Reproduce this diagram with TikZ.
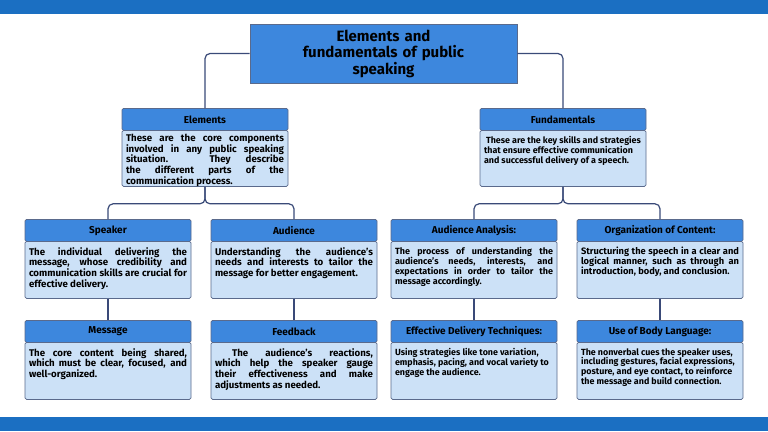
\documentclass[tikz,border=0pt]{standalone}
\usepackage{fontspec}
\setmainfont{Fira Sans}
\definecolor{bar}{HTML}{1B6FC2}
\definecolor{hdr}{HTML}{3D87DD}
\definecolor{bodyc}{HTML}{CCE1F7}
\definecolor{edge}{HTML}{5A6A8C}
\definecolor{lnk}{HTML}{3A4A78}
\newcommand{\sm}{\fontsize{8.9}{9.8}\selectfont\raggedright}
\begin{document}
\begin{tikzpicture}[x=1pt,y=-1pt,
 hd/.style={draw=edge,fill=hdr,line width=0.8pt,rounded corners=1.5pt,minimum width=166pt,minimum height=22pt,inner sep=0pt,font=\fontsize{10}{11}\selectfont\bfseries,anchor=north},
 bd/.style={draw=edge,fill=bodyc,line width=0.8pt,rounded corners=1.5pt,minimum width=166pt,inner sep=4pt,font=\fontsize{9.7}{10.6}\selectfont\bfseries,anchor=north},
 ln/.style={draw=lnk,line width=1.2pt,rounded corners=5pt}]
\useasboundingbox (0,0) rectangle (768,431);
\fill[white] (0,0) rectangle (768,431);
\fill[bar] (0,0) rectangle (768,14);
\fill[bar] (0,417) rectangle (768,431);
% title
\node[draw=edge,fill=hdr,line width=0.8pt,minimum width=267pt,minimum height=59pt,text width=250pt,align=center,font=\fontsize{15}{16.5}\selectfont\bfseries,inner sep=0pt] (title) at (383.5,53.5) {Elements and\\fundamentals of public\\speaking};
% boxes
\newcommand{\pbox}[7]{%
 \node[hd] (#1h) at (#2,#3) {#4};
 \node[bd] (#1b) at (#2,#3+22) {\parbox[t][#6pt][t]{158pt}{\hyphenpenalty=10000\exhyphenpenalty=10000\tolerance=9999\emergencystretch=20pt\vspace*{#7pt}#5}};}
\pbox{el}{205}{108}{Elements}{These are the core components involved in any public speaking situation. They describe the different parts of the communication process.}{48}{0}
\pbox{fu}{563}{108}{Fundamentals}{\sm\hspace*{2pt}These are the key skills and strategies that ensure effective communication and successful delivery of a speech.}{48}{2}
\pbox{sp}{108}{219}{Speaker}{The individual delivering the message, whose credibility and communication skills are crucial for effective delivery.}{49}{2}
\pbox{au}{294}{219}{Audience}{Understanding the audience's needs and interests to tailor the message for better engagement.}{49}{2}
\pbox{aa}{474}{219}{Audience Analysis:}{\fontsize{9}{9.8}\selectfont The process of understanding the audience's needs, interests, and expectations in order to tailor the message accordingly.}{49}{2}
\pbox{oc}{660}{219}{Organization of Content:}{\fontsize{9.3}{10}\selectfont Structuring the speech in a clear and logical manner, such as through an introduction, body, and conclusion.}{49}{2}
\pbox{me}{108}{320}{Message}{The core content being shared, which must be clear, focused, and well-organized.}{49}{2}
\pbox{fe}{294}{320}{Feedback}{\ The audience's reactions, which help the speaker gauge their effectiveness and make adjustments as needed.}{49}{2}
\pbox{ed}{474}{320}{Effective Delivery Techniques:}{\sm Using strategies like tone variation, emphasis, pacing, and vocal variety to engage the audience.}{49}{2}
\pbox{ub}{660}{320}{Use of Body Language:}{\sm The nonverbal cues the speaker uses, including gestures, facial expressions, posture, and eye contact, to reinforce the message and build connection.}{49}{2}
% connectors
\draw[ln] (title.west) -| (elh.north);
\draw[ln] (title.east) -| (fuh.north);
\draw[ln] (elb.south) -- ++(0,17) -| (sph.north);
\draw[ln] (elb.south) -- ++(0,17) -| (auh.north);
\draw[ln] (fub.south) -- ++(0,17) -| (aah.north);
\draw[ln] (fub.south) -- ++(0,17) -| (och.north);
\draw[ln] (spb.south) -- (meh.north);
\draw[ln] (aub.south) -- (feh.north);
\draw[ln] (aab.south) -- (edh.north);
\draw[ln] (ocb.south) -- (ubh.north);
\end{tikzpicture}
\end{document}
